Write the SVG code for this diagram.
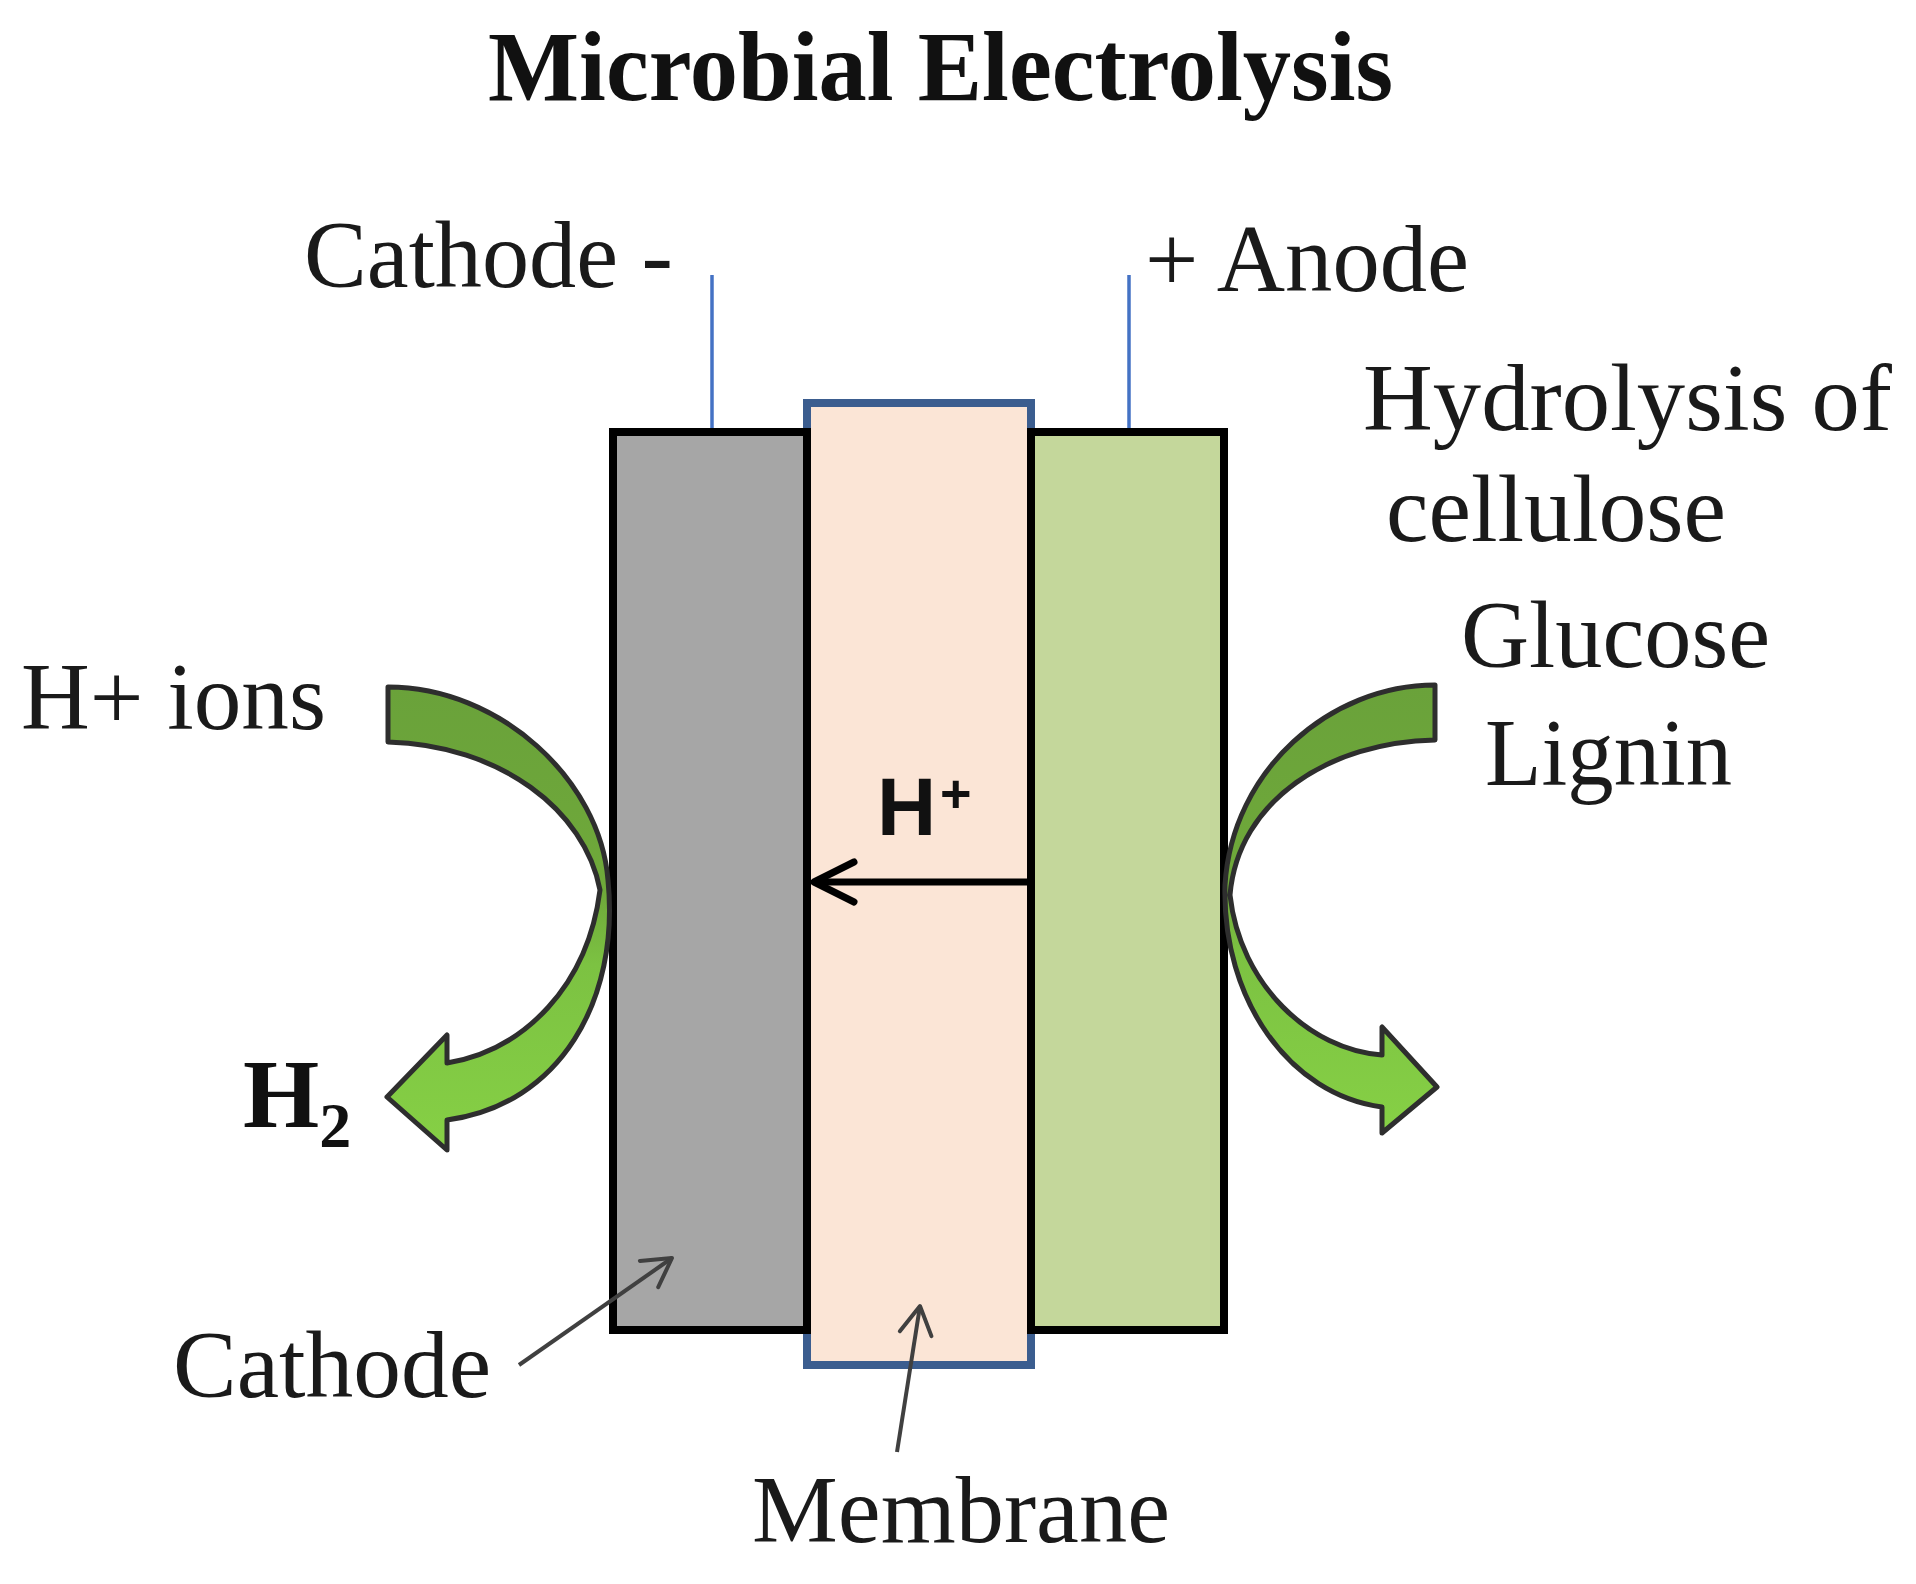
<svg xmlns="http://www.w3.org/2000/svg" width="1916" height="1584" viewBox="0 0 1916 1584">
<style>
.lbl{font-family:"Liberation Serif","Times New Roman",serif;font-size:96px;fill:#1a1a1a}
.title{font-family:"Liberation Serif","Times New Roman",serif;font-size:100px;font-weight:bold;fill:#111}
.wire{stroke:#4472c4;stroke-width:3.5;fill:none}
.cell{stroke:#000;stroke-width:8}
.curve{stroke:#2e2e2e;stroke-width:5;stroke-linejoin:round;fill:url(#greenGrad)}
.pointer{stroke:#404040;stroke-width:4;fill:none}
</style>
<defs>
<linearGradient id="greenGrad" x1="0" y1="0" x2="0" y2="1">
<stop offset="0" stop-color="#6aa23a"/>
<stop offset="0.45" stop-color="#6fa93a"/>
<stop offset="0.6" stop-color="#7cc242"/>
<stop offset="1" stop-color="#86d045"/>
</linearGradient>
<marker id="grayHead" markerUnits="userSpaceOnUse" markerWidth="44" markerHeight="44" refX="36" refY="20" orient="auto" overflow="visible">
<path d="M 8,4 L 36,20 L 8,36" fill="none" stroke="#404040" stroke-width="4" stroke-linecap="round" stroke-linejoin="round"/>
</marker>
<marker id="blackHead" markerUnits="userSpaceOnUse" markerWidth="60" markerHeight="60" refX="52" refY="30" orient="auto" overflow="visible">
<path d="M 12,10 L 52,30 L 12,50" fill="none" stroke="#000" stroke-width="7" stroke-linecap="round" stroke-linejoin="round"/>
</marker>
</defs>
<rect width="1916" height="1584" fill="#fff"/>

<g id="title">
<text class="title" x="488" y="100" textLength="905" lengthAdjust="spacingAndGlyphs">Microbial Electrolysis</text>
</g>

<g id="membrane">
<rect x="807" y="403" width="224" height="962" fill="#fbe5d6" stroke="#3b5d8f" stroke-width="8"/>
</g>
<g id="cathode">
<rect class="cell" x="613" y="432" width="194" height="898" fill="#a6a6a6"/>
</g>
<g id="anode">
<rect class="cell" x="1031" y="432" width="193" height="898" fill="#c4d79b"/>
</g>

<g id="connectors">
<line class="wire" x1="712" y1="275" x2="712" y2="428"/>
<line class="wire" x1="1129" y1="275" x2="1129" y2="428"/>
<line x1="1031" y1="882" x2="814" y2="882" stroke="#000" stroke-width="7" marker-end="url(#blackHead)"/>
<line class="pointer" x1="519" y1="1365" x2="672" y2="1258" marker-end="url(#grayHead)"/>
<line class="pointer" x1="897" y1="1452" x2="920" y2="1306" marker-end="url(#grayHead)"/>
</g>

<g id="left-curved-arrow">
<path class="curve" d="M 388,687 C 500,687 600,780 608,880 C 620,1000 560,1105 447,1120 L 447,1150 L 387,1097 L 447,1035 L 447,1063 C 525,1050 588,985 600,890 C 585,810 500,745 388,742 Z"/>
</g>
<g id="right-curved-arrow">
<path class="curve" d="M 1435,685 C 1330,685 1232,770 1225,885 C 1222,1000 1290,1095 1382,1107 L 1382,1133 L 1437,1087 L 1382,1027 L 1382,1055 C 1310,1050 1240,985 1230,895 C 1238,800 1330,742 1435,740 Z"/>
</g>

<g id="label-cathode-top"><text class="lbl" x="304" y="287" textLength="369" lengthAdjust="spacingAndGlyphs">Cathode -</text></g>
<g id="label-anode-top"><text class="lbl" x="1145" y="291" textLength="324" lengthAdjust="spacingAndGlyphs">+ Anode</text></g>
<g id="label-hydrolysis">
<text class="lbl" x="1363" y="430" textLength="529" lengthAdjust="spacingAndGlyphs">Hydrolysis of</text>
<text class="lbl" x="1386" y="541" textLength="340" lengthAdjust="spacingAndGlyphs">cellulose</text>
</g>
<g id="label-glucose">
<text class="lbl" x="1461" y="667" textLength="309" lengthAdjust="spacingAndGlyphs">Glucose</text>
<text class="lbl" x="1485" y="785" textLength="247" lengthAdjust="spacingAndGlyphs">Lignin</text>
</g>
<g id="label-hions"><text class="lbl" x="21" y="729" textLength="305" lengthAdjust="spacingAndGlyphs">H+ ions</text></g>
<g id="label-h2"><text font-family="Liberation Serif, Times New Roman, serif" font-weight="bold" fill="#111" x="243" y="1127"><tspan font-size="98">H</tspan><tspan font-size="64" dy="20">2</tspan></text></g>
<g id="label-hplus"><text font-family="Liberation Sans, Arial, sans-serif" font-weight="bold" fill="#111" x="877" y="835"><tspan font-size="82">H</tspan><tspan font-size="54" x="940" y="812">+</tspan></text></g>
<g id="label-cathode-bottom"><text class="lbl" x="173" y="1397" textLength="318" lengthAdjust="spacingAndGlyphs">Cathode</text></g>
<g id="label-membrane"><text class="lbl" x="752" y="1542" textLength="418" lengthAdjust="spacingAndGlyphs">Membrane</text></g>
</svg>
